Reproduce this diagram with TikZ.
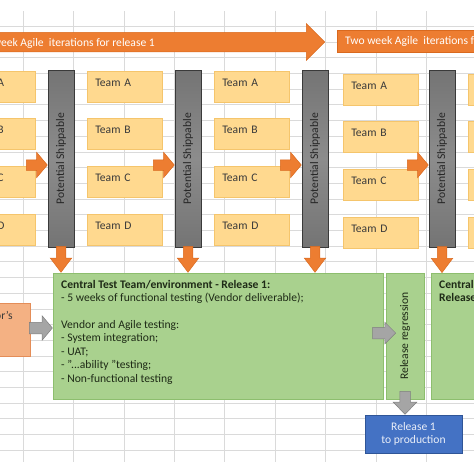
\documentclass[tikz,border=0pt]{standalone}
\usepackage{fontspec}
\setmainfont{Carlito}
\usetikzlibrary{shapes.arrows}
\definecolor{orA}{HTML}{ED7D31}
\definecolor{orB}{HTML}{D9691E}
\definecolor{teamF}{HTML}{FFD98F}
\definecolor{teamD}{HTML}{F5C56C}
\definecolor{greenF}{HTML}{A9D18E}
\definecolor{greenD}{HTML}{8DBE6E}
\definecolor{salF}{HTML}{F4B183}
\definecolor{salD}{HTML}{E48D58}
\definecolor{blueF}{HTML}{4472C4}
\definecolor{blueD}{HTML}{2F5597}
\definecolor{grayF}{HTML}{A5A5A5}
\definecolor{grayD}{HTML}{7F7F7F}
\definecolor{pilF}{HTML}{8C8C8C}
\definecolor{pilE}{HTML}{747474}
\definecolor{pilD}{HTML}{3A3A3A}
\definecolor{gridC}{HTML}{DADADA}
\definecolor{txtD}{HTML}{3A3A3A}
\definecolor{txtG}{HTML}{1E2A16}
\begin{document}
\begin{tikzpicture}[x=1pt,y=-1pt,
  every node/.style={font=\fontsize{11.6}{13.4}\selectfont},
  gridline/.style={draw=gridC, line width=0.6pt},
  teambox/.style={draw=teamD, fill=teamF, line width=0.6pt, anchor=north west,
    text width=59pt, inner xsep=8pt, inner ysep=7pt, text height=8pt, text depth=9pt,
    align=left, text=txtD},
  pillar/.style={rotate=90, draw=pilD, line width=0.8pt, top color=pilE, bottom color=pilE,
    middle color=pilF, minimum width=177pt, minimum height=26pt, inner sep=0pt, text=black!85},
  blockarrow/.style={single arrow, inner sep=0pt, single arrow head indent=0pt, line width=0.5pt},
  orarr/.style={blockarrow, fill=orA, draw=orB},
  grarr/.style={blockarrow, fill=grayF, draw=grayD},
  greenbox/.style={draw=greenD, fill=greenF, line width=0.6pt, inner sep=0pt, text=txtG},
  greentxt/.style={anchor=north west, inner sep=0pt, align=left, text=txtG},
  bannertxt/.style={text=white, inner sep=0pt},
  salbox/.style={draw=salD, fill=salF, line width=0.6pt, inner sep=0pt},
  bluebox/.style={draw=blueD, fill=blueF, line width=0.6pt, align=center, text=white!88!blueF, inner sep=0pt}
]
\useasboundingbox (0,0) rectangle (474,474);
\clip (0,0) rectangle (474,474);
% spreadsheet grid
\foreach \i in {0,...,9} \draw[gridline] ({23+50.4*\i},11) -- ({23+50.4*\i},462);
\foreach \j in {1,...,28} \draw[gridline] (0,{10.5+15.7*\j}) -- (474,{10.5+15.7*\j});
% banners
\node[orarr, minimum height=330pt, inner ysep=9.5pt, single arrow head extend=8.5pt, anchor=tip] (ban1) at (325,42) {};
\node[bannertxt, anchor=base east] (bt1) at (155,46) {Two week Agile~ iterations for release 1};
\node[draw=orB, fill=orA, line width=0.5pt, anchor=north west, minimum width=150pt, minimum height=22pt, inner sep=0pt] (ban2) at (337,30) {};
\node[bannertxt, anchor=base west] (bt2) at (345,44) {Two week Agile~ iterations for release 2};
% team boxes
\foreach \c/\x/\dy in {1/-40/0, 2/87/0, 3/214/0, 4/343/3, 5/468/3} {
  \foreach \r/\y in {A/71, B/118, C/166, D/214} {
    \node[teambox] (t\c\r) at (\x, {\y+\dy}) {Team \r};
  }
}
% pillars
\foreach \i/\x in {1/61, 2/188, 3/315, 4/442}
  \node[pillar] (p\i) at (\x,158.5) {Potential Shippable};
% green boxes
\node[greenbox, minimum width=330pt, minimum height=126pt] (g1) at (218,336) {};
\node[greentxt] (g1t) at (61,279) {\rule{0pt}{9pt}\textbf{Central Test Team/environment - Release 1:}\\- 5 weeks of functional testing (Vendor deliverable);\\[13.4pt]Vendor and Agile testing:\\- System integration;\\- UAT;\\- "...ability "testing;\\- Non-functional testing};
\node[greenbox, anchor=north west, minimum width=60pt, minimum height=126pt] (g2) at (431,273) {};
\node[greentxt] (g2t) at (439,279) {\rule{0pt}{9pt}\textbf{Central Test Team/environment -}\\\textbf{Release 2:}};
\node[greenbox, rotate=90, minimum width=126pt, minimum height=38pt] (reg) at (405,336) {Release regression};
% side arrows into pillars
\foreach \i in {1,...,4}
  \node[orarr, minimum height=21pt, inner ysep=5pt, single arrow head extend=7.5pt, single arrow tip angle=100, anchor=tip] (sa\i) at (p\i.north |- 0,165) {};
% down arrows from pillars
\foreach \i in {1,2,3}
  \node[orarr, shape border rotate=270, minimum height=26pt, inner xsep=4.5pt, single arrow head extend=6pt, single arrow tip angle=74, anchor=tip] (da\i) at (p\i |- g1.north) {};
\node[orarr, shape border rotate=270, minimum height=26pt, inner xsep=4.5pt, single arrow head extend=6pt, single arrow tip angle=74, anchor=tip] (da4) at (p4 |- g2.north) {};
% salmon box
\node[salbox, anchor=north west, minimum width=65pt, minimum height=53pt] (sal) at (-35,303) {};
\node[anchor=base west, inner sep=0pt, text=txtD] (salt) at (-29,319) {Vendor's};
% gray arrows
\node[grarr, minimum height=23pt, inner ysep=5.5pt, single arrow head extend=6.5pt, single arrow tip angle=100, anchor=tip] (ga1) at (g1.west |- 0,328) {};
\node[grarr, minimum height=23pt, inner ysep=5.5pt, single arrow head extend=5pt, anchor=tip] (ga2) at (396,333) {};
% release box
\node[bluebox, minimum width=97pt, minimum height=38pt] (blue) at (413.5,434) {Release 1\\to production};
\node[grarr, shape border rotate=270, minimum height=23pt, inner xsep=5pt, single arrow head extend=6.5pt, single arrow tip angle=88, anchor=tip] (ga3) at (reg |- blue.north) {};
\end{tikzpicture}
\end{document}
